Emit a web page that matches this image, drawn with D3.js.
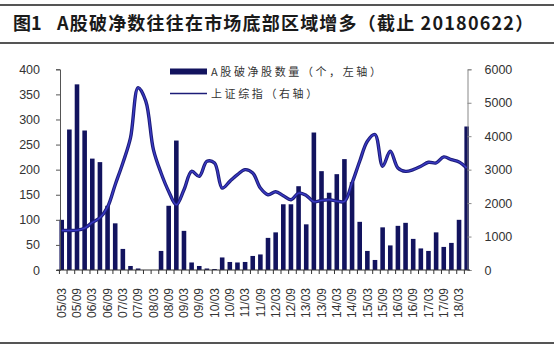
<!DOCTYPE html>
<html>
<head>
<meta charset="utf-8">
<script src="https://cdn.jsdelivr.net/npm/d3@7"></script>
<style>
  html, body { margin: 0; padding: 0; background: #fff; }
  svg { display: block; }
  .tick text { font-family: "Liberation Sans", Arial, sans-serif; fill: #333; }
</style>
</head>
<body>
<div id="chart"></div>
<script>
// --- Data (quarter ends, 2005Q1 .. 2018Q2) ---
var quarters = [
  "05/03","05/06","05/09","05/12","06/03","06/06","06/09","06/12",
  "07/03","07/06","07/09","07/12","08/03","08/06","08/09","08/12",
  "09/03","09/06","09/09","09/12","10/03","10/06","10/09","10/12",
  "11/03","11/06","11/09","11/12","12/03","12/06","12/09","12/12",
  "13/03","13/06","13/09","13/12","14/03","14/06","14/09","14/12",
  "15/03","15/06","15/09","15/12","16/03","16/06","16/09","16/12",
  "17/03","17/06","17/09","17/12","18/03","18/06"
];

// A股破净股数量（个，左轴）
var breakCount = [
  100, 280, 370, 278, 222, 215, 128, 93, 42, 8, 3, 0, 0, 38, 128, 258,
  78, 15, 8, 3, 2, 25, 16, 15, 16, 28, 31, 64, 75, 131, 131, 167,
  91, 274, 197, 154, 191, 221, 175, 96, 38, 20, 85, 49, 88, 94, 62, 43,
  38, 75, 46, 54, 100, 286
];

// 上证综指（右轴）
var sseIndex = [
  1180, 1180, 1190, 1250, 1420, 1560, 1880, 2550, 3200, 3950, 5450, 5050, 3600, 2900, 2350, 1950,
  2400, 2950, 2800, 3250, 3200, 2450, 2650, 2850, 3000, 2900, 2450, 2250, 2340, 2220, 2100, 2300,
  2230, 2040, 2080, 2100, 2060, 2050, 2600, 3250, 3850, 4050, 3100, 3550, 3050, 2950, 3000, 3100,
  3220, 3200, 3380, 3300, 3230, 3050
];

var leftTicks = [0, 50, 100, 150, 200, 250, 300, 350, 400];
var rightTicks = [0, 1000, 2000, 3000, 4000, 5000, 6000];

var titleNo = "图1";
var titleText = "A股破净数往往在市场底部区域增多（截止 20180622）";
var legendBar = "A股破净股数量（个，左轴）";
var legendLine = "上证综指（右轴）";

// --- Layout ---
var W = 554, H = 351;
var plotTop = 69.3, plotBottom = 270;
var leftAxisX = 60, rightAxisX = 467.5;

var svg = d3.select("#chart").append("svg")
  .attr("width", W)
  .attr("height", H);

svg.append("rect").attr("width", W).attr("height", H).attr("fill", "#fff");

// frame lines
[5, 43, 343].forEach(function (y) {
  svg.append("line")
    .attr("x1", 0).attr("x2", W)
    .attr("y1", y).attr("y2", y)
    .attr("stroke", "#555").attr("stroke-width", 2);
});

// title
svg.append("text")
  .attr("x", 13).attr("y", 30)
  .attr("font-family", "'Noto Sans CJK SC', sans-serif")
  .attr("font-weight", "bold").attr("font-size", 18)
  .attr("fill", "#1a1a1a")
  .text(titleNo);
svg.append("text")
  .attr("x", 57).attr("y", 30)
  .attr("font-family", "'Noto Sans CJK SC', sans-serif")
  .attr("font-weight", "bold").attr("font-size", 18)
  .attr("letter-spacing", "1.2px")
  .attr("fill", "#1a1a1a")
  .text(titleText);

// --- Scales ---
var x = d3.scaleBand()
  .domain(quarters)
  .range([57.9, 470.5])
  .paddingInner(0.4)
  .paddingOuter(0.2);

var yLeft = d3.scaleLinear().domain([0, 400]).range([plotBottom, plotTop]);
var yRight = d3.scaleLinear().domain([0, 6000]).range([plotBottom, plotTop]);

// --- Bars ---
svg.append("g")
  .selectAll("rect")
  .data(breakCount)
  .join("rect")
  .attr("x", function (d, i) { return x(quarters[i]); })
  .attr("width", x.bandwidth())
  .attr("y", function (d) { return yLeft(d); })
  .attr("height", function (d) { return plotBottom - yLeft(d); })
  .attr("fill", "#12135e");

// --- Line ---
var line = d3.line()
  .x(function (d, i) { return x(quarters[i]) + x.bandwidth() / 2; })
  .y(function (d) { return yRight(d); })
  .curve(d3.curveCatmullRom.alpha(0.5));

svg.append("path")
  .datum(sseIndex)
  .attr("d", line)
  .attr("fill", "none")
  .attr("stroke", "#1c1c78")
  .attr("stroke-width", 3.4);
svg.append("path")
  .datum(sseIndex)
  .attr("d", line)
  .attr("fill", "none")
  .attr("stroke", "#3a3ac4")
  .attr("stroke-width", 1.4);

// --- Axes ---
var gl = svg.append("g")
  .attr("transform", "translate(" + leftAxisX + ",0)")
  .call(d3.axisLeft(yLeft).tickValues(leftTicks).tickSize(4).tickPadding(16));
gl.select(".domain").attr("stroke", "#555");
gl.selectAll(".tick line").attr("stroke", "#555");
gl.selectAll(".tick text").attr("font-size", 12.5);

var gr = svg.append("g")
  .attr("transform", "translate(" + rightAxisX + ",0)")
  .call(d3.axisRight(yRight).tickValues(rightTicks).tickSize(4).tickPadding(13)
    .tickFormat(d3.format("d")));
gr.select(".domain").attr("stroke", "#888");
gr.selectAll(".tick line").attr("stroke", "#888");
gr.selectAll(".tick text").attr("font-size", 12.5);

var gx = svg.append("g")
  .attr("transform", "translate(0," + plotBottom + ")")
  .call(d3.axisBottom(x).tickSize(4).tickSizeOuter(0)
    .tickFormat(function (d, i) { return i % 2 === 0 ? d : ""; }));
gx.select(".domain").attr("stroke", "#333").attr("d", "M56.5,0H470");
gx.selectAll(".tick line")
  .attr("stroke", "#333")
  .attr("x1", -x.bandwidth() / 2).attr("x2", -x.bandwidth() / 2);
gx.selectAll(".tick text")
  .attr("font-size", 12)
  .attr("fill", "#444")
  .attr("transform", "rotate(-90)")
  .attr("text-anchor", "end")
  .attr("dy", "0.35em")
  .attr("x", -18).attr("y", 0);

// --- Legend ---
var lg = svg.append("g");
lg.append("rect")
  .attr("x", 170).attr("y", 68.5)
  .attr("width", 37).attr("height", 6)
  .attr("fill", "#12135e");
lg.append("line")
  .attr("x1", 170).attr("x2", 207)
  .attr("y1", 93.5).attr("y2", 93.5)
  .attr("stroke", "#1c1c78").attr("stroke-width", 1.5);
[[legendBar, 72], [legendLine, 94]].forEach(function (it) {
  lg.append("text")
    .attr("x", 211).attr("y", it[1])
    .attr("dy", "0.35em")
    .attr("font-family", "'Noto Sans CJK SC', sans-serif")
    .attr("font-size", 11)
    .attr("letter-spacing", "2.6px")
    .attr("fill", "#333")
    .text(it[0]);
});
</script>
</body>
</html>
